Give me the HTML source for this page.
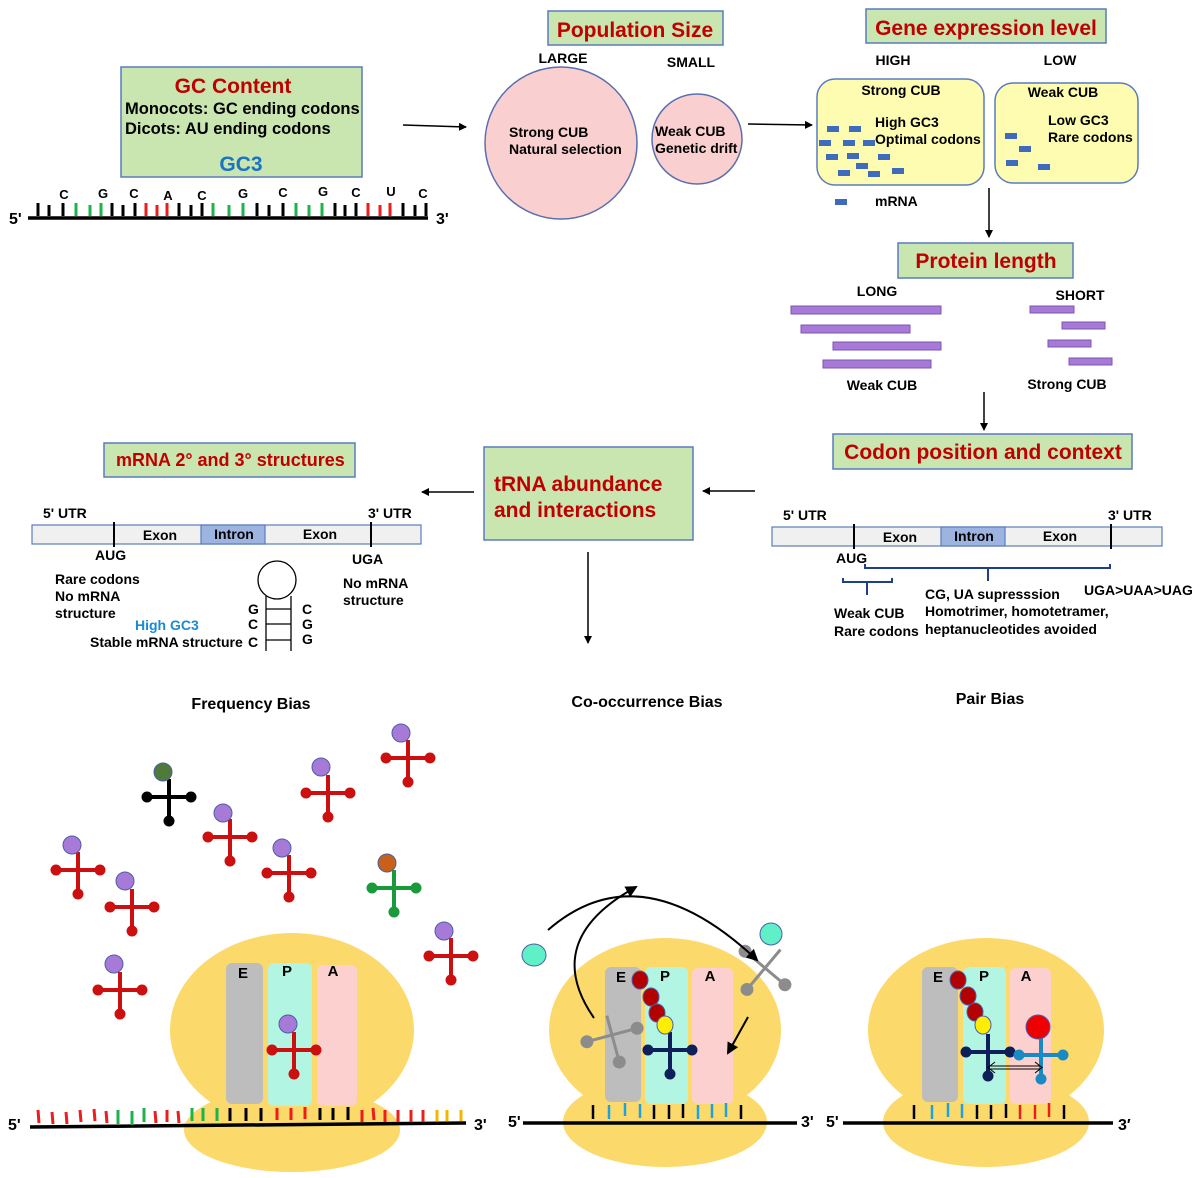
<!DOCTYPE html>
<html><head><meta charset="utf-8"><style>
html,body{margin:0;padding:0;background:#fff;}
svg{display:block;font-family:"Liberation Sans",Arial,sans-serif;font-weight:bold;}
</style></head><body>
<svg width="1200" height="1178" viewBox="0 0 1200 1178" xmlns="http://www.w3.org/2000/svg">
<defs>
<marker id="ah" markerWidth="8" markerHeight="8" refX="7" refY="4" orient="auto" markerUnits="userSpaceOnUse"><path d="M0,0 L8,4 L0,8 Z" fill="#000"/></marker>
<marker id="ah2" markerWidth="12" markerHeight="12" refX="10" refY="6" orient="auto" markerUnits="userSpaceOnUse"><path d="M0,0 L12,6 L0,12 Z" fill="#000"/></marker>
<g id="cross">
<line x1="0" y1="-18" x2="0" y2="24" stroke-width="4"/>
<line x1="-22" y1="0" x2="22" y2="0" stroke-width="4"/>
<circle cx="-22" cy="0" r="5"/><circle cx="22" cy="0" r="5"/><circle cx="0" cy="24" r="5"/>
</g>
</defs>

<!-- GC content -->
<rect x="121" y="67" width="241" height="110" fill="#c9e5b0" stroke="#5a7bbf" stroke-width="1.5"/>
<text x="233" y="93" font-size="21" fill="#c00000" text-anchor="middle">GC Content</text>
<text x="125" y="114" font-size="16.5">Monocots: GC ending codons</text>
<text x="125" y="134" font-size="16.5">Dicots: AU  ending codons</text>
<text x="241" y="171" font-size="21" fill="#1a73c4" text-anchor="middle">GC3</text>
<line x1="28" y1="218" x2="428" y2="218" stroke="#000" stroke-width="3.5"/>
<g stroke-width="3">
<g stroke="#000"><line x1="38" y1="203" x2="38" y2="216"/><line x1="49" y1="205" x2="49" y2="216"/><line x1="63" y1="203" x2="63" y2="216"/><line x1="112" y1="203" x2="112" y2="216"/><line x1="123" y1="205" x2="123" y2="216"/><line x1="135" y1="203" x2="135" y2="216"/><line x1="179" y1="203" x2="179" y2="216"/><line x1="191" y1="205" x2="191" y2="216"/><line x1="202" y1="203" x2="202" y2="216"/><line x1="257" y1="203" x2="257" y2="216"/><line x1="269" y1="205" x2="269" y2="216"/><line x1="283" y1="203" x2="283" y2="216"/><line x1="335" y1="203" x2="335" y2="216"/><line x1="345" y1="205" x2="345" y2="216"/><line x1="356" y1="203" x2="356" y2="216"/><line x1="403" y1="203" x2="403" y2="216"/><line x1="415" y1="205" x2="415" y2="216"/><line x1="426" y1="203" x2="426" y2="216"/></g>
<g stroke="#1db34a"><line x1="76" y1="203" x2="76" y2="216"/><line x1="90" y1="205" x2="90" y2="216"/><line x1="101" y1="203" x2="101" y2="216"/><line x1="213" y1="203" x2="213" y2="216"/><line x1="229" y1="205" x2="229" y2="216"/><line x1="243" y1="203" x2="243" y2="216"/><line x1="296" y1="203" x2="296" y2="216"/><line x1="309" y1="205" x2="309" y2="216"/><line x1="322" y1="203" x2="322" y2="216"/></g>
<g stroke="#ee1c1c"><line x1="146" y1="203" x2="146" y2="216"/><line x1="157" y1="205" x2="157" y2="216"/><line x1="167" y1="203" x2="167" y2="216"/><line x1="368" y1="203" x2="368" y2="216"/><line x1="380" y1="205" x2="380" y2="216"/><line x1="390" y1="203" x2="390" y2="216"/></g>
</g>
<g font-size="13" text-anchor="middle"><text x="64" y="199">C</text><text x="103" y="198">G</text><text x="134" y="198">C</text><text x="168" y="200">A</text><text x="202" y="200">C</text><text x="243" y="198">G</text><text x="283" y="197">C</text><text x="323" y="196">G</text><text x="356" y="197">C</text><text x="391" y="196">U</text><text x="423" y="198">C</text></g>
<text x="9" y="224" font-size="16">5'</text><text x="436" y="224" font-size="16">3'</text>
<line x1="403" y1="125" x2="466" y2="127" stroke="#000" stroke-width="1.5" marker-end="url(#ah)"/>

<!-- Population size -->
<rect x="548" y="11" width="175" height="34" fill="#c9e5b0" stroke="#5a7bbf" stroke-width="1.5"/>
<text x="635" y="37" font-size="21" fill="#c00000" text-anchor="middle">Population Size</text>
<text x="563" y="63" font-size="14" text-anchor="middle">LARGE</text>
<text x="691" y="67" font-size="14" text-anchor="middle">SMALL</text>
<circle cx="561" cy="143" r="76" fill="#f9cfcf" stroke="#5a6fb0" stroke-width="1.5"/>
<circle cx="697" cy="139" r="45" fill="#f9cfcf" stroke="#5a6fb0" stroke-width="1.5"/>
<text x="509" y="137" font-size="14">Strong CUB</text><text x="509" y="154" font-size="14">Natural selection</text>
<text x="655" y="136" font-size="14">Weak CUB</text><text x="655" y="153" font-size="14">Genetic drift</text>
<line x1="748" y1="124" x2="812" y2="125" stroke="#000" stroke-width="1.5" marker-end="url(#ah)"/>

<!-- Gene expression -->
<rect x="866" y="9" width="240" height="34" fill="#c9e5b0" stroke="#5a7bbf" stroke-width="1.5"/>
<text x="986" y="35" font-size="21" fill="#c00000" text-anchor="middle">Gene expression level</text>
<text x="893" y="65" font-size="14" text-anchor="middle">HIGH</text>
<text x="1060" y="65" font-size="14" text-anchor="middle">LOW</text>
<rect x="817" y="79" width="167" height="106" rx="18" fill="#fefcb0" stroke="#5a7bbf" stroke-width="1.5"/>
<rect x="995" y="83" width="143" height="100" rx="18" fill="#fefcb0" stroke="#5a7bbf" stroke-width="1.5"/>
<text x="901" y="95" font-size="14" text-anchor="middle">Strong CUB</text>
<text x="875" y="127" font-size="14">High GC3</text><text x="875" y="144" font-size="14">Optimal codons</text>
<text x="1063" y="97" font-size="14" text-anchor="middle">Weak CUB</text>
<text x="1048" y="125" font-size="14">Low GC3</text><text x="1048" y="142" font-size="14">Rare codons</text>
<g fill="#3f6bbf">
<rect x="827" y="126" width="12" height="6"/><rect x="849" y="126" width="12" height="6"/><rect x="819" y="140" width="12" height="6"/><rect x="843" y="140" width="12" height="6"/><rect x="863" y="140" width="12" height="6"/><rect x="826" y="154" width="12" height="6"/><rect x="847" y="153" width="12" height="6"/><rect x="878" y="154" width="12" height="6"/><rect x="856" y="163" width="12" height="6"/><rect x="838" y="170" width="12" height="6"/><rect x="868" y="171" width="12" height="6"/><rect x="892" y="168" width="12" height="6"/>
<rect x="1005" y="133" width="12" height="6"/><rect x="1019" y="146" width="12" height="6"/><rect x="1006" y="160" width="12" height="6"/><rect x="1038" y="164" width="12" height="6"/>
<rect x="835" y="199" width="12" height="6"/></g>
<text x="875" y="206" font-size="14">mRNA</text>
<line x1="989" y1="188" x2="989" y2="237" stroke="#000" stroke-width="1.5" marker-end="url(#ah)"/>

<!-- Protein length -->
<rect x="898" y="243" width="175" height="35" fill="#c9e5b0" stroke="#5a7bbf" stroke-width="1.5"/>
<text x="986" y="268" font-size="21" fill="#c00000" text-anchor="middle">Protein length</text>
<text x="877" y="296" font-size="14" text-anchor="middle">LONG</text>
<text x="1080" y="300" font-size="14" text-anchor="middle">SHORT</text>
<g fill="#a87ad8" stroke="#7d56b0" stroke-width="1">
<rect x="791" y="306" width="150" height="8"/><rect x="801" y="325" width="109" height="8"/><rect x="833" y="342" width="108" height="8"/><rect x="823" y="360" width="108" height="8"/>
<rect x="1030" y="306" width="44" height="7"/><rect x="1062" y="322" width="43" height="7"/><rect x="1048" y="340" width="43" height="7"/><rect x="1069" y="358" width="43" height="7"/></g>
<text x="882" y="390" font-size="14" text-anchor="middle">Weak CUB</text>
<text x="1067" y="389" font-size="14" text-anchor="middle">Strong CUB</text>
<line x1="984" y1="392" x2="984" y2="430" stroke="#000" stroke-width="1.5" marker-end="url(#ah)"/>

<!-- Codon position -->
<rect x="833" y="434" width="299" height="35" fill="#c9e5b0" stroke="#5a7bbf" stroke-width="1.5"/>
<text x="983" y="459" font-size="21" fill="#c00000" text-anchor="middle">Codon position and context</text>
<line x1="755" y1="491" x2="703" y2="491" stroke="#000" stroke-width="1.5" marker-end="url(#ah)"/>

<!-- tRNA abundance -->
<rect x="484" y="447" width="209" height="93" fill="#c9e5b0" stroke="#5a7bbf" stroke-width="1.5"/>
<text x="494" y="491" font-size="21" fill="#c00000">tRNA abundance</text>
<text x="494" y="517" font-size="21" fill="#c00000">and interactions</text>
<line x1="474" y1="492" x2="422" y2="492" stroke="#000" stroke-width="1.5" marker-end="url(#ah)"/>
<line x1="588" y1="552" x2="588" y2="643" stroke="#000" stroke-width="1.5" marker-end="url(#ah)"/>

<!-- mRNA structures -->
<rect x="104" y="443" width="251" height="34" fill="#c9e5b0" stroke="#5a7bbf" stroke-width="1.5"/>
<text x="116" y="466" font-size="18" fill="#c00000">mRNA 2° and 3° structures</text>
<text x="43" y="518" font-size="14">5' UTR</text><text x="368" y="518" font-size="14">3' UTR</text>
<rect x="32" y="525" width="389" height="19" fill="#f0f0f0" stroke="#5a7bbf" stroke-width="1.2"/>
<rect x="201" y="525" width="64" height="19" fill="#9db4e0" stroke="#5a7bbf" stroke-width="1.2"/>
<line x1="114" y1="522" x2="114" y2="547" stroke="#000" stroke-width="2"/><line x1="371" y1="522" x2="371" y2="547" stroke="#000" stroke-width="2"/>
<text x="160" y="540" font-size="14" text-anchor="middle">Exon</text><text x="234" y="539" font-size="14" text-anchor="middle">Intron</text><text x="320" y="539" font-size="14" text-anchor="middle">Exon</text>
<text x="95" y="560" font-size="14">AUG</text><text x="352" y="564" font-size="14">UGA</text>
<text x="55" y="584" font-size="14">Rare codons</text><text x="55" y="601" font-size="14">No mRNA</text><text x="55" y="618" font-size="14">structure</text>
<text x="343" y="588" font-size="14">No mRNA</text><text x="343" y="605" font-size="14">structure</text>
<text x="135" y="630" font-size="14" fill="#1a8ad4">High GC3</text>
<text x="90" y="647" font-size="14">Stable mRNA structure</text>
<circle cx="277" cy="580" r="19" fill="#fff" stroke="#000" stroke-width="1.3"/>
<g stroke="#000" stroke-width="1.3"><line x1="266" y1="596" x2="266" y2="651"/><line x1="291" y1="596" x2="291" y2="651"/><line x1="266" y1="609" x2="291" y2="609"/><line x1="266" y1="624" x2="291" y2="624"/><line x1="266" y1="640" x2="291" y2="640"/></g>
<g font-size="14"><text x="248" y="614">G</text><text x="248" y="629">C</text><text x="248" y="647">C</text><text x="302" y="614">C</text><text x="302" y="629">G</text><text x="302" y="644">G</text></g>

<!-- Codon position gene -->
<text x="783" y="520" font-size="14">5' UTR</text><text x="1108" y="520" font-size="14">3' UTR</text>
<rect x="772" y="527" width="390" height="19" fill="#f0f0f0" stroke="#5a7bbf" stroke-width="1.2"/>
<rect x="941" y="527" width="64" height="19" fill="#9db4e0" stroke="#5a7bbf" stroke-width="1.2"/>
<line x1="854" y1="524" x2="854" y2="549" stroke="#000" stroke-width="2"/><line x1="1111" y1="524" x2="1111" y2="549" stroke="#000" stroke-width="2"/>
<text x="900" y="542" font-size="14" text-anchor="middle">Exon</text><text x="974" y="541" font-size="14" text-anchor="middle">Intron</text><text x="1060" y="541" font-size="14" text-anchor="middle">Exon</text>
<text x="836" y="563" font-size="14">AUG</text>
<g stroke="#1f3f8a" stroke-width="2" fill="none"><path d="M865,564 V568 H1110 V564"/><line x1="988" y1="568" x2="988" y2="581"/><path d="M843,578 V582 H892 V578"/><line x1="867" y1="582" x2="867" y2="595"/></g>
<text x="925" y="599" font-size="14">CG, UA supresssion</text>
<text x="1084" y="595" font-size="14">UGA&gt;UAA&gt;UAG</text>
<text x="925" y="616" font-size="14">Homotrimer, homotetramer,</text>
<text x="925" y="634" font-size="14">heptanucleotides avoided</text>
<text x="834" y="618" font-size="14">Weak CUB</text><text x="834" y="636" font-size="14">Rare codons</text>

<!-- titles -->
<text x="251" y="709" font-size="16" text-anchor="middle">Frequency Bias</text>
<text x="647" y="707" font-size="16" text-anchor="middle">Co-occurrence Bias</text>
<text x="990" y="704" font-size="16" text-anchor="middle">Pair Bias</text>

<!-- Left ribosome -->
<ellipse cx="292" cy="1030" rx="122" ry="97" fill="#fcd96b"/>
<ellipse cx="292" cy="1130" rx="108" ry="42" fill="#fcd96b"/>
<rect x="226" y="963" width="37" height="141" rx="6" fill="#bdbdbd"/>
<rect x="268" y="963" width="44" height="143" rx="6" fill="#b3f5e3"/>
<rect x="317" y="965" width="40" height="141" rx="6" fill="#fdd0d0"/>
<text x="243" y="978" font-size="15" text-anchor="middle">E</text><text x="287" y="976" font-size="15" text-anchor="middle">P</text><text x="333" y="976" font-size="15" text-anchor="middle">A</text>
<line x1="30" y1="1127" x2="466" y2="1123" stroke="#000" stroke-width="3.5"/>
<g stroke-width="3">
<g stroke="#ee1c1c"><line x1="38" y1="1110" x2="39" y2="1123"/><line x1="52" y1="1112" x2="53" y2="1124"/><line x1="66" y1="1112" x2="67" y2="1124"/><line x1="80" y1="1110" x2="81" y2="1122"/><line x1="94" y1="1109" x2="95" y2="1121"/><line x1="106" y1="1111" x2="107" y2="1123"/><line x1="155" y1="1111" x2="156" y2="1123"/><line x1="167" y1="1110" x2="167" y2="1122"/><line x1="178" y1="1111" x2="179" y2="1123"/><line x1="277" y1="1108" x2="277" y2="1120"/><line x1="291" y1="1108" x2="291" y2="1120"/><line x1="305" y1="1107" x2="305" y2="1119"/><line x1="362" y1="1110" x2="362" y2="1122"/><line x1="373" y1="1108" x2="374" y2="1120"/><line x1="385" y1="1110" x2="385" y2="1122"/><line x1="398" y1="1110" x2="398" y2="1122"/><line x1="411" y1="1110" x2="411" y2="1122"/><line x1="423" y1="1110" x2="423" y2="1122"/></g>
<g stroke="#1db34a"><line x1="118" y1="1110" x2="118" y2="1124"/><line x1="132" y1="1111" x2="132" y2="1125"/><line x1="144" y1="1108" x2="144" y2="1122"/><line x1="192" y1="1108" x2="192" y2="1121"/><line x1="203" y1="1108" x2="203" y2="1121"/><line x1="217" y1="1108" x2="217" y2="1121"/></g>
<g stroke="#000"><line x1="230" y1="1108" x2="230" y2="1121"/><line x1="246" y1="1108" x2="246" y2="1121"/><line x1="261" y1="1108" x2="261" y2="1121"/><line x1="320" y1="1108" x2="320" y2="1120"/><line x1="333" y1="1108" x2="333" y2="1120"/><line x1="348" y1="1107" x2="348" y2="1120"/></g>
<g stroke="#f5b400"><line x1="437" y1="1110" x2="437" y2="1121"/><line x1="447" y1="1110" x2="447" y2="1121"/><line x1="461" y1="1110" x2="461" y2="1121"/></g>
</g>
<text x="8" y="1130" font-size="16">5'</text><text x="474" y="1130" font-size="16">3'</text>

<!-- free tRNAs -->
<g fill="#cc0f0f" stroke="#cc0f0f">
<use href="#cross" x="408" y="758"/><use href="#cross" x="328" y="793"/><use href="#cross" x="230" y="837"/><use href="#cross" x="289" y="873"/><use href="#cross" x="78" y="870"/><use href="#cross" x="132" y="907"/><use href="#cross" x="451" y="956"/><use href="#cross" x="120" y="990"/><use href="#cross" x="294" y="1050"/>
</g>
<g fill="#000" stroke="#000"><use href="#cross" x="169" y="797"/></g>
<g fill="#1a9a3a" stroke="#1a9a3a"><use href="#cross" x="394" y="888"/></g>
<g fill="#a87ad8" stroke="#4a5fa8" stroke-width="1">
<circle cx="401" cy="733" r="9"/><circle cx="321" cy="767" r="9"/><circle cx="223" cy="813" r="9"/><circle cx="282" cy="848" r="9"/><circle cx="72" cy="845" r="9"/><circle cx="125" cy="881" r="9"/><circle cx="444" cy="931" r="9"/><circle cx="114" cy="964" r="9"/><circle cx="288" cy="1024" r="9"/></g>
<circle cx="163" cy="772" r="9" fill="#4f7a3a" stroke="#4a5fa8"/>
<circle cx="387" cy="863" r="9" fill="#c8601a" stroke="#4a5fa8"/>

<!-- Middle ribosome -->
<ellipse cx="665" cy="1030" rx="116" ry="92" fill="#fcd96b"/>
<ellipse cx="665" cy="1122" rx="102" ry="45" fill="#fcd96b"/>
<rect x="605" y="967" width="36" height="135" rx="6" fill="#bdbdbd"/>
<rect x="645" y="967" width="43" height="137" rx="6" fill="#b3f5e3"/>
<rect x="692" y="968" width="41" height="136" rx="6" fill="#fdd0d0"/>
<text x="621" y="982" font-size="15" text-anchor="middle">E</text><text x="665" y="981" font-size="15" text-anchor="middle">P</text><text x="710" y="981" font-size="15" text-anchor="middle">A</text>
<line x1="523" y1="1123" x2="797" y2="1123" stroke="#000" stroke-width="3.5"/>
<g stroke-width="2.5">
<g stroke="#000"><line x1="593" y1="1105" x2="593" y2="1119"/><line x1="654" y1="1105" x2="654" y2="1119"/><line x1="669" y1="1105" x2="669" y2="1119"/><line x1="683" y1="1104" x2="683" y2="1118"/><line x1="741" y1="1105" x2="741" y2="1119"/></g>
<g stroke="#1aa3e0"><line x1="609" y1="1105" x2="609" y2="1119"/><line x1="625" y1="1103" x2="625" y2="1116"/><line x1="640" y1="1104" x2="640" y2="1118"/><line x1="698" y1="1105" x2="698" y2="1119"/><line x1="712" y1="1104" x2="712" y2="1118"/><line x1="726" y1="1103" x2="726" y2="1117"/></g>
</g>
<text x="508" y="1127" font-size="16">5'</text><text x="801" y="1127" font-size="16">3'</text>
<g fill="#8c8c8c" stroke="#8c8c8c" stroke-width="3">
<g transform="translate(612,1035) rotate(-15)"><line x1="0" y1="-20" x2="0" y2="28"/><line x1="-26" y1="0" x2="26" y2="0"/><circle cx="-26" cy="0" r="5"/><circle cx="26" cy="0" r="5"/><circle cx="0" cy="28" r="5"/></g>
<g transform="translate(765,968) rotate(40)"><line x1="0" y1="-24" x2="0" y2="28"/><line x1="-26" y1="0" x2="26" y2="0"/><circle cx="-26" cy="0" r="5"/><circle cx="26" cy="0" r="5"/><circle cx="0" cy="28" r="5"/></g>
</g>
<circle cx="771" cy="934" r="11" fill="#5ff0c8" stroke="#4a5fa8"/>
<ellipse cx="534" cy="955" rx="12" ry="11" fill="#5ff0c8" stroke="#4a5fa8"/>
<g fill="#0e1f5a" stroke="#0e1f5a"><use href="#cross" x="670" y="1050"/></g>
<g fill="#b30000" stroke="#4a5fa8" stroke-width="1"><ellipse cx="640" cy="980" rx="8" ry="9"/><ellipse cx="651" cy="997" rx="8" ry="9"/><ellipse cx="657" cy="1013" rx="8" ry="9"/></g>
<ellipse cx="665" cy="1025" rx="8" ry="9" fill="#ffee00" stroke="#4a5fa8"/>
<g fill="none" stroke="#000" stroke-width="2">
<path d="M548,930 Q640,850 757,960" marker-end="url(#ah2)"/>
<path d="M594,1018 Q540,940 636,887" marker-end="url(#ah2)"/>
<line x1="748" y1="1017" x2="728" y2="1053" marker-end="url(#ah2)"/>
</g>

<!-- Right ribosome -->
<ellipse cx="986" cy="1030" rx="118" ry="92" fill="#fcd96b"/>
<ellipse cx="986" cy="1122" rx="103" ry="45" fill="#fcd96b"/>
<rect x="922" y="967" width="36" height="135" rx="6" fill="#bdbdbd"/>
<rect x="963" y="967" width="43" height="137" rx="6" fill="#b3f5e3"/>
<rect x="1010" y="968" width="41" height="136" rx="6" fill="#fdd0d0"/>
<text x="938" y="982" font-size="15" text-anchor="middle">E</text><text x="984" y="981" font-size="15" text-anchor="middle">P</text><text x="1026" y="981" font-size="15" text-anchor="middle">A</text>
<line x1="843" y1="1123" x2="1113" y2="1123" stroke="#000" stroke-width="3.5"/>
<g stroke-width="2.5">
<g stroke="#000"><line x1="914" y1="1105" x2="914" y2="1119"/><line x1="977" y1="1105" x2="977" y2="1119"/><line x1="991" y1="1105" x2="991" y2="1119"/><line x1="1006" y1="1104" x2="1006" y2="1118"/><line x1="1064" y1="1105" x2="1064" y2="1119"/></g>
<g stroke="#1aa3e0"><line x1="932" y1="1105" x2="932" y2="1119"/><line x1="948" y1="1103" x2="948" y2="1117"/><line x1="962" y1="1104" x2="962" y2="1118"/></g>
<g stroke="#ee1c1c"><line x1="1020" y1="1105" x2="1020" y2="1119"/><line x1="1035" y1="1105" x2="1035" y2="1119"/><line x1="1049" y1="1103" x2="1049" y2="1117"/></g>
</g>
<text x="826" y="1127" font-size="16">5'</text><text x="1118" y="1130" font-size="16">3′</text>
<g fill="#0e1f5a" stroke="#0e1f5a"><use href="#cross" x="988" y="1052"/></g>
<g fill="#1a8ac4" stroke="#1a8ac4"><use href="#cross" x="1041" y="1055"/></g>
<circle cx="1038" cy="1027" r="12" fill="#ee0000" stroke="#4a5fa8"/>
<g fill="#b30000" stroke="#4a5fa8" stroke-width="1"><ellipse cx="958" cy="980" rx="8" ry="9"/><ellipse cx="968" cy="996" rx="8" ry="9"/><ellipse cx="975" cy="1012" rx="8" ry="9"/></g>
<ellipse cx="983" cy="1025" rx="8" ry="9" fill="#ffee00" stroke="#4a5fa8"/>
<g stroke="#000" stroke-width="1" fill="none"><line x1="990" y1="1066" x2="1040" y2="1066"/><line x1="990" y1="1069" x2="1040" y2="1069"/><path d="M995,1062 L988,1067.5 L995,1073"/><path d="M1035,1062 L1042,1067.5 L1035,1073"/></g>
</svg>
</body></html>
